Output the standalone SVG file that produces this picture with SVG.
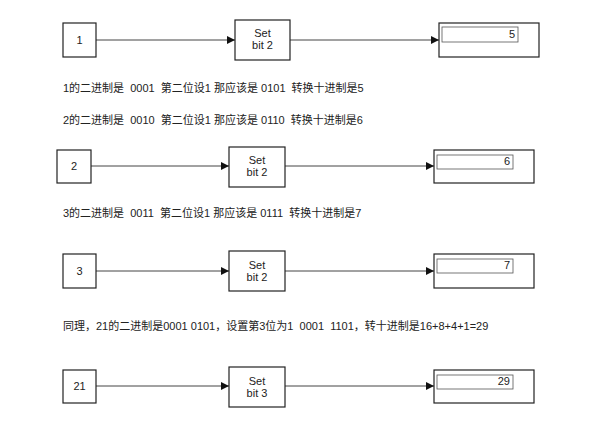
<svg xmlns="http://www.w3.org/2000/svg" width="600" height="429" viewBox="0 0 600 429">
<style>
.b{fill:#fff;stroke:#222;stroke-width:1.2}
.f{fill:#fff;stroke:#555;stroke-width:0.8}
.t{font-family:"Liberation Sans","Noto Sans CJK SC",sans-serif;font-size:11px;fill:#222;white-space:pre}
.c{stroke:#444;stroke-width:1;fill:none;marker-end:url(#a)}
</style>
<defs><marker id="a" markerWidth="8" markerHeight="8" refX="8" refY="4" orient="auto" markerUnits="userSpaceOnUse"><path d="M0,0L8,4L0,8Z" fill="#111"/></marker></defs>
<rect width="600" height="429" fill="#fff"/>
<g id="connectors">
<path class="c" d="M96,40H235"/><path class="c" d="M290,40H439"/>
<path class="c" d="M91,166H229"/><path class="c" d="M285,166H434"/>
<path class="c" d="M96,271H229"/><path class="c" d="M285,271H434"/>
<path class="c" d="M96,386H229"/><path class="c" d="M285,386H434"/>
</g>
<g id="c1"><rect class="b" x="63" y="23" width="33" height="34"/><text class="t" x="79.5" y="44" text-anchor="middle">1</text></g>
<g id="s1"><rect class="b" x="235" y="20" width="55" height="40"/><text class="t" x="262.5" y="37" text-anchor="middle">Set</text><text class="t" x="262.5" y="49" text-anchor="middle">bit 2</text></g>
<g id="d1"><rect class="b" x="439" y="23" width="100" height="34"/><rect class="f" x="442" y="27" width="76" height="15"/><text class="t" x="515" y="38" text-anchor="end">5</text></g>
<text class="t" x="63" y="92" xml:space="preserve">1的二进制是  0001  第二位设1 那应该是 0101  转换十进制是5</text>
<text class="t" x="63" y="124" xml:space="preserve">2的二进制是  0010  第二位设1 那应该是 0110  转换十进制是6</text>
<g id="c2"><rect class="b" x="57" y="150" width="34" height="33"/><text class="t" x="74" y="170" text-anchor="middle">2</text></g>
<g id="s2"><rect class="b" x="229" y="147" width="56" height="40"/><text class="t" x="257" y="164" text-anchor="middle">Set</text><text class="t" x="257" y="176" text-anchor="middle">bit 2</text></g>
<g id="d2"><rect class="b" x="434" y="150" width="100" height="33"/><rect class="f" x="437" y="155" width="76" height="14"/><text class="t" x="510" y="165" text-anchor="end">6</text></g>
<text class="t" x="63" y="217" xml:space="preserve">3的二进制是  0011  第二位设1 那应该是 0111  转换十进制是7</text>
<g id="c3"><rect class="b" x="63" y="254" width="33" height="34"/><text class="t" x="79.5" y="275" text-anchor="middle">3</text></g>
<g id="s3"><rect class="b" x="229" y="251" width="56" height="40"/><text class="t" x="257" y="269" text-anchor="middle">Set</text><text class="t" x="257" y="281" text-anchor="middle">bit 2</text></g>
<g id="d3"><rect class="b" x="434" y="254" width="100" height="34"/><rect class="f" x="437" y="259" width="76" height="14"/><text class="t" x="510" y="269" text-anchor="end">7</text></g>
<text class="t" x="63" y="330" xml:space="preserve">同理，21的二进制是0001 0101，设置第3位为1  0001  1101，转十进制是16+8+4+1=29</text>
<g id="c4"><rect class="b" x="63" y="370" width="33" height="33"/><text class="t" x="79.5" y="390" text-anchor="middle">21</text></g>
<g id="s4"><rect class="b" x="229" y="367" width="56" height="40"/><text class="t" x="257" y="385" text-anchor="middle">Set</text><text class="t" x="257" y="397" text-anchor="middle">bit 3</text></g>
<g id="d4"><rect class="b" x="434" y="370" width="100" height="33"/><rect class="f" x="437" y="375" width="76" height="14"/><text class="t" x="510" y="385" text-anchor="end">29</text></g>
</svg>
